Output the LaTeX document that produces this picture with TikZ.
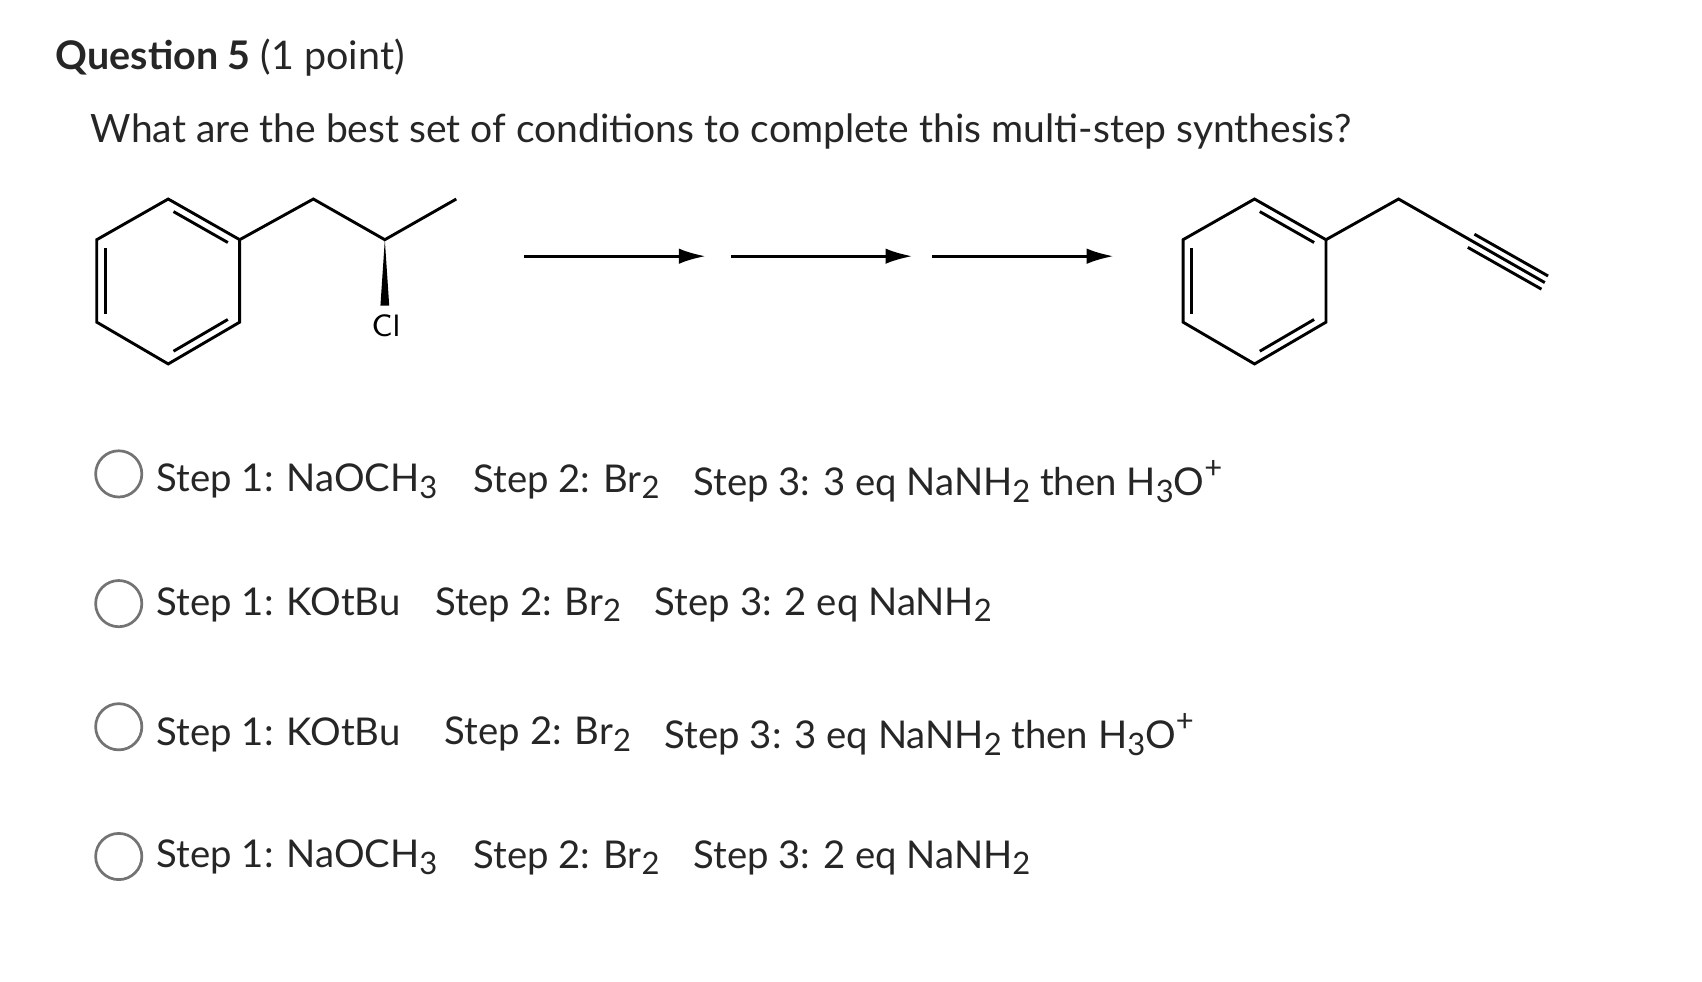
\documentclass[tikz,border=0pt]{standalone}
\usepackage{fontspec}
\setmainfont{Lato}
\usetikzlibrary{calc,arrows.meta}
\newcommand{\mysb}[1]{\raisebox{-0.35ex}{\footnotesize #1}}
\newcommand{\mysp}[1]{\raisebox{0.9ex}{\footnotesize #1}}
\begin{document}
\begin{tikzpicture}[x=0.01cm,y=-0.01cm,
  bond/.style={line width=0.75pt},
  txt/.style={anchor=west,inner sep=0pt,font=\fontsize{9.9}{12}\selectfont,text=black!85},
  radio/.style={draw=black!55,line width=0.7pt,fill=white,circle,minimum size=0.42cm,inner sep=0pt},
  rarrow/.style={line width=0.8pt,-{Latex[length=7pt,width=4pt]}}]
\useasboundingbox (0,0) rectangle (1548,893);
\node[txt,font=\fontsize{10.2}{13}\selectfont] (title) at (50,52) {\textbf{Question 5} (1 point)};
\node[txt,font=\fontsize{10.1}{13}\selectfont] (q) at (82,120) {What are the best set of conditions to complete this multi-step synthesis?};
% molecules
\foreach \dx/\nm in {0/L,988/R}{
  \coordinate (\nm1) at (153+\dx,181); \coordinate (\nm2) at (218+\dx,218);
  \coordinate (\nm3) at (218+\dx,293); \coordinate (\nm4) at (153+\dx,331);
  \coordinate (\nm5) at (88+\dx,293);  \coordinate (\nm6) at (88+\dx,218);
  \draw[bond] (\nm1)--(\nm2)--(\nm3)--(\nm4)--(\nm5)--(\nm6)--cycle;
  \draw[bond] ($(\nm1)!0.12!(\nm2)+(-3,7)$)--($(\nm1)!0.88!(\nm2)+(-3,7)$);
  \draw[bond] ($(\nm3)!0.12!(\nm4)+(-3,-7)$)--($(\nm3)!0.88!(\nm4)+(-3,-7)$);
  \draw[bond] ($(\nm5)!0.1!(\nm6)+(8,0)$)--($(\nm5)!0.9!(\nm6)+(8,0)$);
}
\coordinate (a1) at (285,181); \coordinate (a2) at (350,218); \coordinate (a3) at (415,181);
\draw[bond] (L2)--(a1)--(a2)--(a3);
\fill (a2)--(354,278)--(346,278)--cycle;
\node[inner sep=0pt,font=\sffamily\fontsize{8}{9}\selectfont] (cl) at (351,296) {Cl};
\coordinate (b1) at (1272,181); \coordinate (b2) at (1338,219); \coordinate (b3) at (1405,257);
\draw[bond] (R2)--(b1)--(b3);
\draw[bond] ($(b2)+(3,-6)$)--($(b3)+(3,-6)$);
\draw[bond] ($(b2)+(-3,6)$)--($(b3)+(-3,6)$);
% arrows
\coordinate (p1) at (477,233); \coordinate (p2) at (642,233);
\coordinate (p3) at (665,233); \coordinate (p4) at (830,233);
\coordinate (p5) at (848,233); \coordinate (p6) at (1013,233);
\draw[rarrow] (p1)--(p2); \draw[rarrow] (p3)--(p4); \draw[rarrow] (p5)--(p6);
% options
\node[radio] (r1) at (108,431) {};
\node[txt] (o1a) at (142,438) {Step 1: NaOCH\mysb{3}};
\node[txt] (o1b) at (430,438) {Step 2: Br\mysb{2}};
\node[txt] (o1c) at (630,438) {Step 3: 3 eq NaNH\mysb{2} then H\mysb{3}O\mysp{+}};
\node[radio] (r2) at (108,549) {};
\node[txt] (o2a) at (142,550) {Step 1: KOtBu};
\node[txt] (o2b) at (395,550) {Step 2: Br\mysb{2}};
\node[txt] (o2c) at (595,550) {Step 3: 2 eq NaNH\mysb{2}};
\node[radio] (r3) at (108,661) {};
\node[txt] (o3a) at (142,668) {Step 1: KOtBu};
\node[txt] (o3b) at (404,668) {Step 2: Br\mysb{2}};
\node[txt] (o3c) at (604,668) {Step 3: 3 eq NaNH\mysb{2} then H\mysb{3}O\mysp{+}};
\node[radio] (r4) at (108,779) {};
\node[txt] (o4a) at (142,780) {Step 1: NaOCH\mysb{3}};
\node[txt] (o4b) at (430,780) {Step 2: Br\mysb{2}};
\node[txt] (o4c) at (630,780) {Step 3: 2 eq NaNH\mysb{2}};
\end{tikzpicture}
\end{document}
